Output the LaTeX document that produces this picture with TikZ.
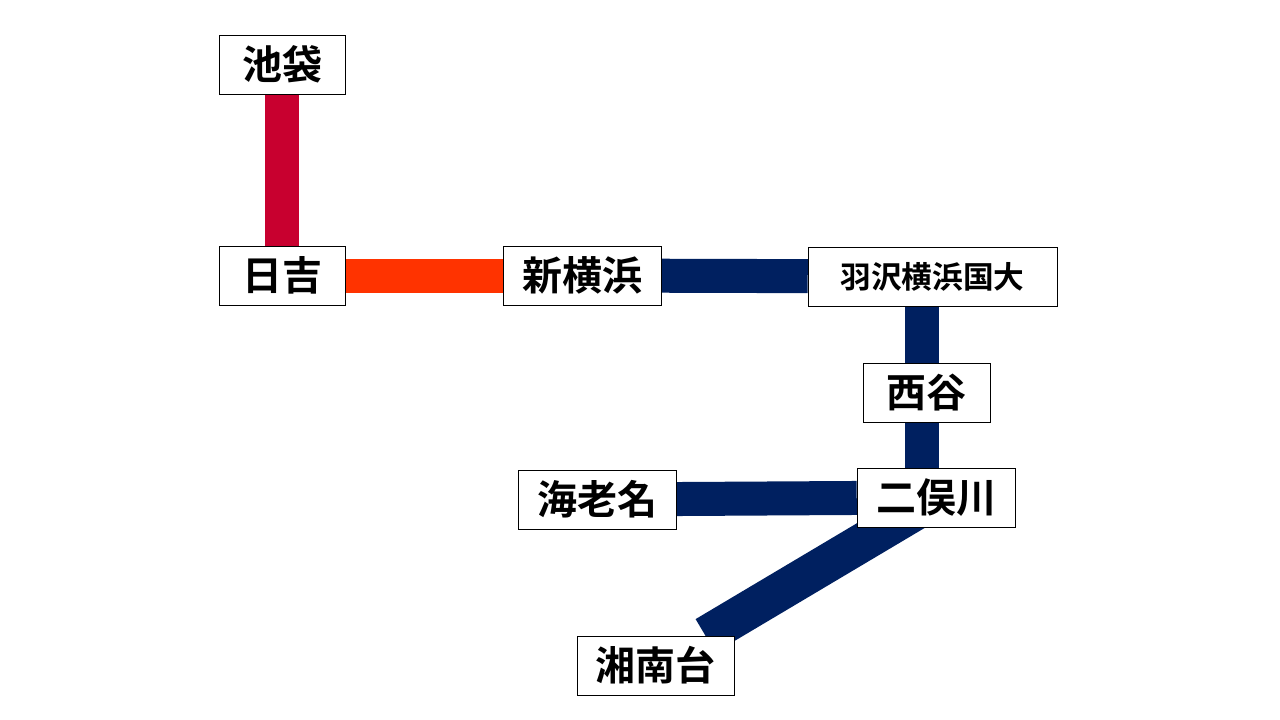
\documentclass[tikz,border=0pt]{standalone}
\usepackage{fontspec}
\setmainfont{Noto Sans CJK JP Bold}
\usetikzlibrary{backgrounds}
\begin{document}
\begin{tikzpicture}[x=0.75pt,y=-0.75pt,
    station/.style={draw,fill=white,thin,minimum height=44.25pt,inner sep=0pt,font=\fontsize{30}{30}\selectfont},
    track/.style={line width=25.5pt}]
    \useasboundingbox (0,0) rectangle (1280,720);
    \definecolor{ikered}{HTML}{C8002F}
    \definecolor{tokyu}{HTML}{FF3300}
    \definecolor{sotetsu}{HTML}{002060}
    % stations
    \node [station,minimum width=94.5pt] (ikebukuro) at (282,64.5) {池袋};
    \node [station,minimum width=94.5pt] (hiyoshi) at (282,275.5) {日吉};
    \node [station,minimum width=118.5pt] (shinyoko) at (582,275.5) {新横浜};
    \node [station,minimum width=186.75pt,font=\fontsize{23}{23}\selectfont] (hazawa) at (932.5,276.5) {羽沢横浜国大};
    \node [station,minimum width=95.25pt] (nishiya) at (926.5,392.5) {西谷};
    \node [station,minimum width=118.5pt] (futamata) at (936,497.5) {二俣川};
    \node [station,minimum width=118.5pt] (ebina) at (597,499.5) {海老名};
    \node [station,minimum width=117.75pt] (shonandai) at (655.5,665.5) {湘南台};
    \coordinate (bend) at (922,497.5);
    % tracks
    \begin{scope}[on background layer]
        \draw [track,ikered] (ikebukuro) -- (hiyoshi);
        \draw [track,tokyu] (hiyoshi) -- (shinyoko);
        \draw [track,sotetsu] (shinyoko) -- (hazawa);
        \draw [track,sotetsu] (922,276.5) -- (bend);
        \draw [track,sotetsu] (ebina) -- (futamata);
        \draw [track,sotetsu,line width=29pt] (917,510) -- (shonandai);
    \end{scope}
\end{tikzpicture}
\end{document}
